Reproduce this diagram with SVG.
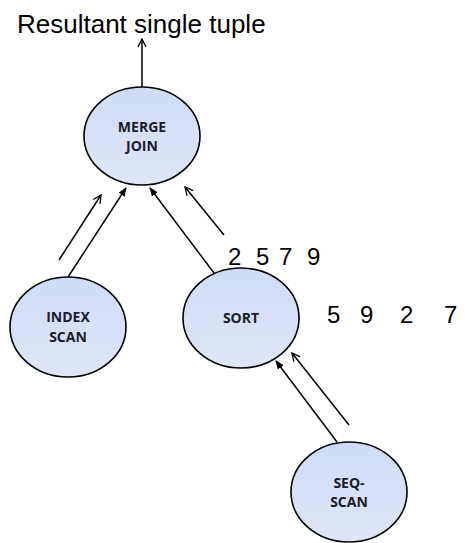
<svg xmlns="http://www.w3.org/2000/svg" width="474" height="543" viewBox="0 0 474 543">
<defs>
<linearGradient id="g" x1="0" y1="0" x2="0" y2="1">
<stop offset="0" stop-color="#cfdbf6"/>
<stop offset="1" stop-color="#dfe6f8"/>
</linearGradient>
<marker id="open" viewBox="0 0 10 10" refX="9" refY="5" markerWidth="10" markerHeight="10" markerUnits="userSpaceOnUse" orient="auto">
<path d="M1,1 L9,5 L1,9" fill="none" stroke="#000" stroke-width="1.3"/>
</marker>
<marker id="fill" viewBox="0 0 10 10" refX="9" refY="5" markerWidth="9" markerHeight="9" markerUnits="userSpaceOnUse" orient="auto">
<path d="M0,1 L10,5 L0,9 Z" fill="#000"/>
</marker>
</defs>
<style>
.node ellipse{fill:url(#g);stroke:#000;stroke-width:1.6}
.lbl{font-family:"Open Sans","Liberation Sans",sans-serif;font-weight:bold;font-size:14px;fill:#1a1a2e;text-anchor:middle}
.big{font-family:"Liberation Sans",Arial,sans-serif;font-size:24px;fill:#000}
.c line{stroke:#000;stroke-width:1.5}
.o{marker-end:url(#open)}
.f{marker-end:url(#fill)}
</style>
<text class="big" x="17" y="33" style="font-size:26px">Resultant single tuple</text>
<g class="c" id="connectors">
<line class="o" x1="142" y1="87" x2="142" y2="39"/>
<line class="f" x1="68" y1="277" x2="126" y2="188"/>
<line class="o" x1="59" y1="260" x2="101" y2="195"/>
<line class="f" x1="214" y1="273" x2="150" y2="188"/>
<line class="o" x1="224" y1="235" x2="185" y2="187"/>
<line class="f" x1="337" y1="442" x2="276" y2="361"/>
<line class="o" x1="349" y1="425" x2="292" y2="353"/>
</g>
<g class="node" id="merge-join">
<ellipse cx="142" cy="136" rx="58" ry="49"/>
<text class="lbl" x="142" y="132">MERGE</text>
<text class="lbl" x="142" y="151">JOIN</text>
</g>
<g class="node" id="index-scan">
<ellipse cx="68" cy="327" rx="58" ry="50"/>
<text class="lbl" x="68" y="322">INDEX</text>
<text class="lbl" x="68" y="342">SCAN</text>
</g>
<g class="node" id="sort">
<ellipse cx="241" cy="318" rx="58" ry="50"/>
<text class="lbl" x="241" y="323">SORT</text>
</g>
<g class="node" id="seq-scan">
<ellipse cx="349" cy="492" rx="58" ry="50"/>
<text class="lbl" x="349" y="488">SEQ-</text>
<text class="lbl" x="349" y="507">SCAN</text>
</g>
<text class="big"><tspan x="228" y="265">2</tspan><tspan x="256" y="265">5</tspan><tspan x="279" y="265">7</tspan><tspan x="307" y="265">9</tspan></text>
<text class="big"><tspan x="327" y="323">5</tspan><tspan x="360" y="323">9</tspan><tspan x="400" y="323">2</tspan><tspan x="444" y="323">7</tspan></text>
</svg>
